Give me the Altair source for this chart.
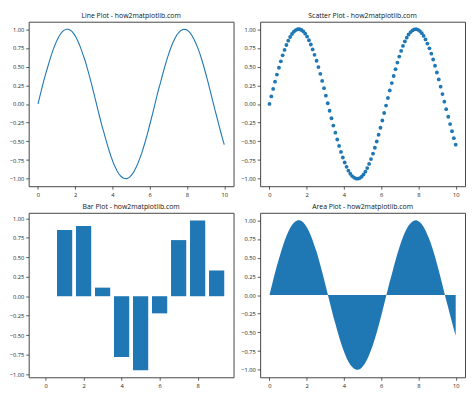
import altair as alt
import pandas as pd

# x positions (100 evenly spaced samples from 0 to 10)
x_vals = [0.00, 0.10, 0.20, 0.30, 0.40, 0.51, 0.61, 0.71, 0.81, 0.91,
          1.01, 1.11, 1.21, 1.31, 1.41, 1.52, 1.62, 1.72, 1.82, 1.92,
          2.02, 2.12, 2.22, 2.32, 2.42, 2.53, 2.63, 2.73, 2.83, 2.93,
          3.03, 3.13, 3.23, 3.33, 3.43, 3.54, 3.64, 3.74, 3.84, 3.94,
          4.04, 4.14, 4.24, 4.34, 4.44, 4.55, 4.65, 4.75, 4.85, 4.95,
          5.05, 5.15, 5.25, 5.35, 5.45, 5.56, 5.66, 5.76, 5.86, 5.96,
          6.06, 6.16, 6.26, 6.36, 6.46, 6.57, 6.67, 6.77, 6.87, 6.97,
          7.07, 7.17, 7.27, 7.37, 7.47, 7.58, 7.68, 7.78, 7.88, 7.98,
          8.08, 8.18, 8.28, 8.38, 8.48, 8.59, 8.69, 8.79, 8.89, 8.99,
          9.09, 9.19, 9.29, 9.39, 9.49, 9.60, 9.70, 9.80, 9.90, 10.00]

y_vals = [0.000, 0.101, 0.201, 0.298, 0.393, 0.484, 0.570, 0.650, 0.723, 0.789,
          0.847, 0.896, 0.936, 0.967, 0.988, 0.999, 0.999, 0.989, 0.970, 0.940,
          0.901, 0.852, 0.795, 0.730, 0.657, 0.578, 0.493, 0.403, 0.308, 0.211,
          0.111, 0.010, -0.091, -0.191, -0.289, -0.384, -0.475, -0.561, -0.642, -0.716,
          -0.783, -0.841, -0.892, -0.933, -0.964, -0.986, -0.998, -0.999, -0.991, -0.972,
          -0.943, -0.905, -0.858, -0.802, -0.737, -0.665, -0.586, -0.502, -0.412, -0.318,
          -0.221, -0.121, -0.021, 0.080, 0.181, 0.279, 0.374, 0.466, 0.553, 0.634,
          0.709, 0.776, 0.836, 0.887, 0.929, 0.961, 0.984, 0.997, 1.000, 0.992,
          0.975, 0.947, 0.910, 0.863, 0.808, 0.744, 0.673, 0.595, 0.511, 0.421,
          0.328, 0.231, 0.132, 0.031, -0.070, -0.171, -0.269, -0.365, -0.457, -0.544]

# bar chart
bar_x = [1, 2, 3, 4, 5, 6, 7, 8, 9]
bar_y = [0.85, 0.90, 0.11, -0.78, -0.95, -0.22, 0.72, 0.97, 0.33]

y_ticks = [-1.0, -0.75, -0.5, -0.25, 0.0, 0.25, 0.5, 0.75, 1.0]
x_ticks_wave = [0, 2, 4, 6, 8, 10]
x_ticks_bar = [0, 2, 4, 6, 8]

titles = ["Line Plot - how2matplotlib.com", "Scatter Plot - how2matplotlib.com",
          "Bar Plot - how2matplotlib.com", "Area Plot - how2matplotlib.com"]

BLUE = "#1f77b4"
W, H = 208, 167
FONT = "Open Sans"

wave = pd.DataFrame({"x": x_vals, "y": y_vals})
bars = pd.DataFrame({"x": bar_x, "y": bar_y})


def xaxis(vals):
    return alt.Axis(values=vals, title=None, format="d", grid=False)


yaxis = alt.Axis(values=y_ticks, title=None, format=".2f", grid=False, minExtent=20)

xs_wave = alt.Scale(domain=[-0.5, 10.5], nice=False, zero=False)
ys_wave = alt.Scale(domain=[-1.1, 1.1], nice=False, zero=False)


def ttl(t):
    return alt.Title(t, fontSize=7, font=FONT, fontWeight="normal", offset=3, color="#111")


line = alt.Chart(wave).mark_line(color=BLUE, strokeWidth=1.1).encode(
    x=alt.X("x:Q", scale=xs_wave, axis=xaxis(x_ticks_wave)),
    y=alt.Y("y:Q", scale=ys_wave, axis=yaxis),
).properties(width=W, height=H, title=ttl(titles[0]))

scatter = alt.Chart(wave).mark_circle(color=BLUE, size=15, opacity=1).encode(
    x=alt.X("x:Q", scale=xs_wave, axis=xaxis(x_ticks_wave)),
    y=alt.Y("y:Q", scale=ys_wave, axis=yaxis),
).properties(width=W, height=H, title=ttl(titles[1]))

bar = alt.Chart(bars).transform_calculate(
    x0="datum.x - 0.4", x1="datum.x + 0.4"
).mark_rect(color=BLUE).encode(
    x=alt.X("x0:Q", scale=alt.Scale(domain=[-0.89, 9.89], nice=False, zero=False),
            axis=xaxis(x_ticks_bar)),
    x2="x1:Q",
    y=alt.Y("y:Q", scale=alt.Scale(domain=[-1.04, 1.07], nice=False, zero=False), axis=yaxis),
    y2=alt.datum(0),
).properties(width=W, height=H, title=ttl(titles[2]))

area = alt.Chart(wave).mark_area(color=BLUE, opacity=1).encode(
    x=alt.X("x:Q", scale=xs_wave, axis=xaxis(x_ticks_wave)),
    y=alt.Y("y:Q", scale=ys_wave, axis=yaxis),
    y2=alt.datum(0),
).properties(width=W, height=H, title=ttl(titles[3]))

chart = alt.vconcat(
    alt.hconcat(line, scatter, spacing=5),
    alt.hconcat(bar, area, spacing=5),
    spacing=4,
).properties(padding=0).configure_view(
    stroke="#444", strokeWidth=1
).configure_axis(
    domain=False, tickColor="#333", tickSize=3, tickWidth=0.8,
    labelFont=FONT, labelFontSize=5.8, labelColor="#222", labelPadding=2,
)

chart.save("out.html", embed_options={"renderer": "svg", "actions": False})
